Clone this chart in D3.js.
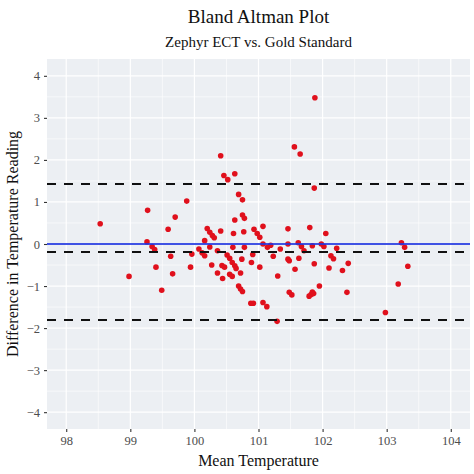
<!DOCTYPE html>
<html>
<head>
<meta charset="utf-8">
<script src="https://cdn.jsdelivr.net/npm/d3@7/dist/d3.min.js"></script>
<style>
  body { margin: 0; background: #fff; }
  svg text { font-family: "Liberation Serif", "Times New Roman", serif; }
</style>
</head>
<body>
<div id="chart"></div>
<script>
// mean of the two readings
var meanTemp = [
    98.53, 98.98, 99.27, 99.26, 99.34, 99.38, 99.40, 99.49, 99.59, 99.63,
    99.66, 99.70, 99.88, 99.94, 99.96, 100.07, 100.12, 100.16, 100.16, 100.20,
    100.24, 100.28, 100.31, 100.24, 100.27, 100.36, 100.36, 100.41, 100.41, 100.43,
    100.47, 100.44, 100.46, 100.52, 100.51, 100.55, 100.59, 100.63, 100.65, 100.55,
    100.59, 100.60, 100.61, 100.63, 100.63, 100.69, 100.75, 100.75, 100.78, 100.77,
    100.78, 100.74, 100.72, 100.69, 100.72, 100.75, 100.88, 100.93, 100.98, 101.02,
    101.07, 101.07, 101.14, 101.19, 100.91, 100.89, 101.23, 101.34, 101.02, 101.30,
    100.92, 101.07, 101.13, 101.29, 101.46, 101.46, 101.46, 101.48, 101.62, 101.67,
    101.71, 101.63, 101.57, 101.48, 101.52, 101.56, 101.65, 101.80, 101.84, 101.88,
    101.87, 101.98, 102.02, 102.05, 101.87, 101.79, 101.82, 101.84, 101.86, 101.95,
    102.13, 102.17, 102.22, 102.10, 102.31, 102.40, 102.38, 102.98, 103.18, 103.23,
    103.28, 103.33
];
// difference between the readings
var diffTemp = [
    0.48, -0.77, 0.80, 0.05, -0.06, -0.13, -0.55, -1.10, 0.35, -0.29,
    -0.71, 0.64, 1.02, -0.55, -0.24, -0.12, -0.21, -0.28, 0.08, 0.37,
    0.28, 0.20, 0.15, -0.07, -0.50, -0.16, -0.69, 0.31, 2.10, -0.51,
    -0.55, -0.82, 1.63, 1.53, -0.26, -0.34, -0.44, -0.52, -0.58, -0.72,
    -0.77, -0.08, 0.25, 0.57, 1.67, 1.18, 1.05, 0.69, 0.61, 0.29,
    -0.08, -0.36, -0.69, -1.00, -1.07, -1.13, -1.41, 0.35, 0.25, 0.16,
    0.42, 0.00, -0.08, -0.03, -0.25, -0.44, -0.29, -0.12, -0.55, -0.76,
    -1.41, -1.39, -1.49, -1.84, 0.36, 0.00, -0.36, -0.40, 0.03, -0.06,
    -0.16, -0.34, -0.60, -1.15, -1.21, 2.31, 2.14, 0.39, -0.04, 3.48,
    1.33, 0.00, -0.06, 0.25, -0.47, -1.24, -1.20, -1.14, -1.18, -1.00,
    -0.28, -0.35, -0.10, -0.57, -0.63, -0.46, -1.15, -1.63, -0.95, 0.03,
    -0.08, -0.53
];
var zeroLine = 0;
var limitLines = [1.43, -0.19, -1.81];   // upper LoA, mean diff, lower LoA
var xTicks = [98, 99, 100, 101, 102, 103, 104];
var yTicks = [-4, -3, -2, -1, 0, 1, 2, 3, 4];

var data = meanTemp.map(function(m, i) { return { mean: m, diff: diffTemp[i] }; });

var W = 474, H = 474;
var margin = { top: 59, right: 4, bottom: 45, left: 47 },
    width = W - margin.left - margin.right,
    height = H - margin.top - margin.bottom;

var x = d3.scaleLinear().domain([97.7, 104.3]).range([0, width]);
var y = d3.scaleLinear().domain([-4.4, 4.4]).range([height, 0]);

var svg = d3.select("#chart").append("svg")
    .attr("width", W)
    .attr("height", H);

var g = svg.append("g")
    .attr("transform", "translate(" + margin.left + "," + margin.top + ")");

// panel
g.append("rect")
    .attr("width", width)
    .attr("height", height)
    .attr("fill", "#eceff3");

// minor grid
var xMinor = d3.range(97.5, 104.6, 1).filter(function(v) { return v > 97.7 && v < 104.3; });
var yMinor = d3.range(-3.5, 4, 1);
g.selectAll(".xminor").data(xMinor).enter().append("line")
    .attr("x1", function(d) { return x(d); }).attr("x2", function(d) { return x(d); })
    .attr("y1", 0).attr("y2", height)
    .attr("stroke", "#fff").attr("stroke-width", 0.6);
g.selectAll(".yminor").data(yMinor).enter().append("line")
    .attr("y1", function(d) { return y(d); }).attr("y2", function(d) { return y(d); })
    .attr("x1", 0).attr("x2", width)
    .attr("stroke", "#fff").attr("stroke-width", 0.6);

// major grid
g.selectAll(".xmajor").data(xTicks).enter().append("line")
    .attr("x1", function(d) { return x(d); }).attr("x2", function(d) { return x(d); })
    .attr("y1", 0).attr("y2", height)
    .attr("stroke", "#fff").attr("stroke-width", 1.2);
g.selectAll(".ymajor").data(yTicks).enter().append("line")
    .attr("y1", function(d) { return y(d); }).attr("y2", function(d) { return y(d); })
    .attr("x1", 0).attr("x2", width)
    .attr("stroke", "#fff").attr("stroke-width", 1.2);

// points
g.selectAll(".pt").data(data).enter().append("circle")
    .attr("cx", function(d) { return x(d.mean); })
    .attr("cy", function(d) { return y(d.diff); })
    .attr("r", 2.8)
    .attr("fill", "#e0101c");

// dashed limit lines
g.selectAll(".lim").data(limitLines).enter().append("line")
    .attr("x1", 0).attr("x2", width)
    .attr("y1", function(d) { return y(d); }).attr("y2", function(d) { return y(d); })
    .attr("stroke", "#111")
    .attr("stroke-width", 2)
    .attr("stroke-dasharray", "9,8");

// zero line
g.append("line")
    .attr("x1", 0).attr("x2", width)
    .attr("y1", y(zeroLine)).attr("y2", y(zeroLine))
    .attr("stroke", "#1f35e0")
    .attr("stroke-width", 2.2)
    .attr("stroke-opacity", 0.85);

// axes
var xAxis = g.append("g")
    .attr("transform", "translate(0," + height + ")")
    .call(d3.axisBottom(x).tickValues(xTicks).tickSize(3).tickPadding(4).tickFormat(d3.format("d")));
var yAxis = g.append("g")
    .call(d3.axisLeft(y).tickValues(yTicks).tickSize(3).tickPadding(4).tickFormat(d3.format("d")));

[xAxis, yAxis].forEach(function(a) {
    a.select(".domain").remove();
    a.selectAll(".tick line").attr("stroke", "#333").attr("stroke-width", 1.1);
    a.selectAll(".tick text")
        .attr("fill", "#4d4d4d")
        .style("font-family", "'Liberation Serif', serif")
        .style("font-size", "12.5px");
});

// titles
svg.append("text")
    .attr("x", margin.left + width / 2)
    .attr("y", 23)
    .attr("text-anchor", "middle")
    .style("font-size", "19px")
    .attr("fill", "#111")
    .text("Bland Altman Plot");

svg.append("text")
    .attr("x", margin.left + width / 2)
    .attr("y", 47)
    .attr("text-anchor", "middle")
    .style("font-size", "15px")
    .attr("fill", "#111")
    .text("Zephyr ECT vs. Gold Standard");

svg.append("text")
    .attr("x", margin.left + width / 2)
    .attr("y", 466)
    .attr("text-anchor", "middle")
    .style("font-size", "16px")
    .attr("fill", "#111")
    .text("Mean Temperature");

svg.append("text")
    .attr("transform", "translate(18," + (margin.top + y(0)) + ") rotate(-90)")
    .attr("text-anchor", "middle")
    .style("font-size", "16px")
    .attr("fill", "#111")
    .text("Difference in Temperature Reading");
</script>
</body>
</html>
